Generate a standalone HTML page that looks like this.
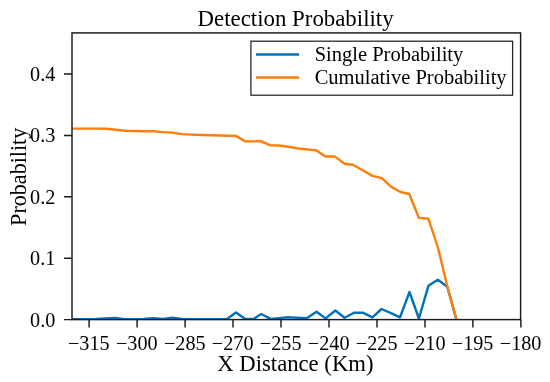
<!DOCTYPE html>
<html>
<head>
<meta charset="utf-8">
<title>Detection Probability</title>
<style>
html,body{margin:0;padding:0;background:#fff;}
body{width:550px;height:382px;overflow:hidden;}
svg{display:block;}
text{font-family:"Liberation Serif","Times New Roman",serif;fill:#000;}
.tk{font-size:20.2px;}
.lb{font-size:22.5px;}
</style>
</head>
<body>
<svg width="550" height="382" viewBox="0 0 550 382">
<rect x="0" y="0" width="550" height="382" fill="#fff"/>
<defs><clipPath id="ax"><rect x="72" y="32.9" width="448.6" height="286.7"/></clipPath></defs>
<g clip-path="url(#ax)" fill="none" stroke-width="2.4" stroke-linejoin="round" stroke-linecap="butt">
<polyline id="blue" stroke="#0072bd" points="72.2,319.1 96,319 105.6,318.5 115.1,317.9 124.5,319.1 134,319.2 143.5,319 153.2,318.2 162.7,318.9 172.5,317.8 181.8,318.9 191,319.1 200,319.2 209.5,319.1 218.5,319.1 227,318.9 236,312.5 245.2,319 253.5,319 261.3,314.0 270.5,318.9 279.3,318.1 288,317.3 297,317.7 306.7,318.2 316.5,311.7 325.6,318.4 335.4,310.5 344.5,317.8 354,312.7 362.8,312.7 372.4,317.3 381.5,309 391,313.1 400,317.3 409.5,292 418.9,318.5 428.4,285.8 437.8,279.8 447.3,286.8 456.4,319.5"/>
<polyline id="orange" stroke="#ff7d0a" points="72.2,128.6 96,128.6 106.6,128.7 115.5,129.7 125,130.8 134.5,131 144,131.2 154.2,131.3 162.5,132.1 171.9,132.6 182,134.1 192,134.6 202,135 211,135.3 220.4,135.5 228,135.7 236,135.9 245.2,141.4 253.5,141.4 261.4,141.3 270.5,145.4 279.3,145.5 288.5,146.8 296.7,148.3 306.8,149.4 316,150.2 325.5,156.5 334.6,156.4 344.6,163.7 352.8,164.7 362.7,170.3 372.6,175.9 381.8,178.1 391.3,186.9 400.4,192 409.2,194 418.9,217.8 428.4,218.7 438.2,248.5 447.2,286 456.4,319.2"/>
</g>
<g stroke="#1a1a1a" stroke-width="1.45" fill="none">
<rect x="72" y="32.9" width="448.6" height="286.7"/>
<path id="xticks" d="M89.1,319.6v8M137.1,319.6v8M185.1,319.6v8M233.0,319.6v8M281.0,319.6v8M329.0,319.6v8M377.0,319.6v8M425.0,319.6v8M472.9,319.6v8M520.9,319.6v8"/>
<path id="yticks" d="M72,319.6h-8M72,258.2h-8M72,196.8h-8M72,135.4h-8M72,74.0h-8"/>
</g>
<g class="tk" text-anchor="middle">
<text x="88.8" y="350.2">−315</text>
<text x="136.8" y="350.2">−300</text>
<text x="184.8" y="350.2">−285</text>
<text x="232.7" y="350.2">−270</text>
<text x="280.7" y="350.2">−255</text>
<text x="328.7" y="350.2">−240</text>
<text x="376.7" y="350.2">−225</text>
<text x="424.7" y="350.2">−210</text>
<text x="472.6" y="350.2">−195</text>
<text x="520.6" y="350.2">−180</text>
</g>
<g class="tk" text-anchor="end">
<text x="55.3" y="326.6">0.0</text>
<text x="55.3" y="265.2">0.1</text>
<text x="55.3" y="203.8">0.2</text>
<text x="55.3" y="142.4">0.3</text>
<text x="55.3" y="81.0">0.4</text>
</g>
<text class="lb" style="font-size:22.85px" text-anchor="middle" x="295.6" y="26">Detection Probability</text>
<text class="lb" style="font-size:22.7px" text-anchor="middle" x="295.4" y="370.6">X Distance (Km)</text>
<text class="lb" style="font-size:22.1px" text-anchor="middle" transform="translate(25.6,176.8) rotate(-90)">Probability</text>
<rect x="250.9" y="41.2" width="261.7" height="54" fill="#fff" stroke="#222" stroke-width="1.25"/>
<line x1="256" y1="54.5" x2="299.1" y2="54.5" stroke="#0072bd" stroke-width="2.3"/>
<line x1="256" y1="77.5" x2="299.1" y2="77.5" stroke="#ff7d0a" stroke-width="2.3"/>
<text class="tk" style="font-size:20.5px" x="314.7" y="60.9">Single Probability</text>
<text class="tk" style="font-size:20.5px" x="314.7" y="84.1">Cumulative Probability</text>
</svg>
</body>
</html>
